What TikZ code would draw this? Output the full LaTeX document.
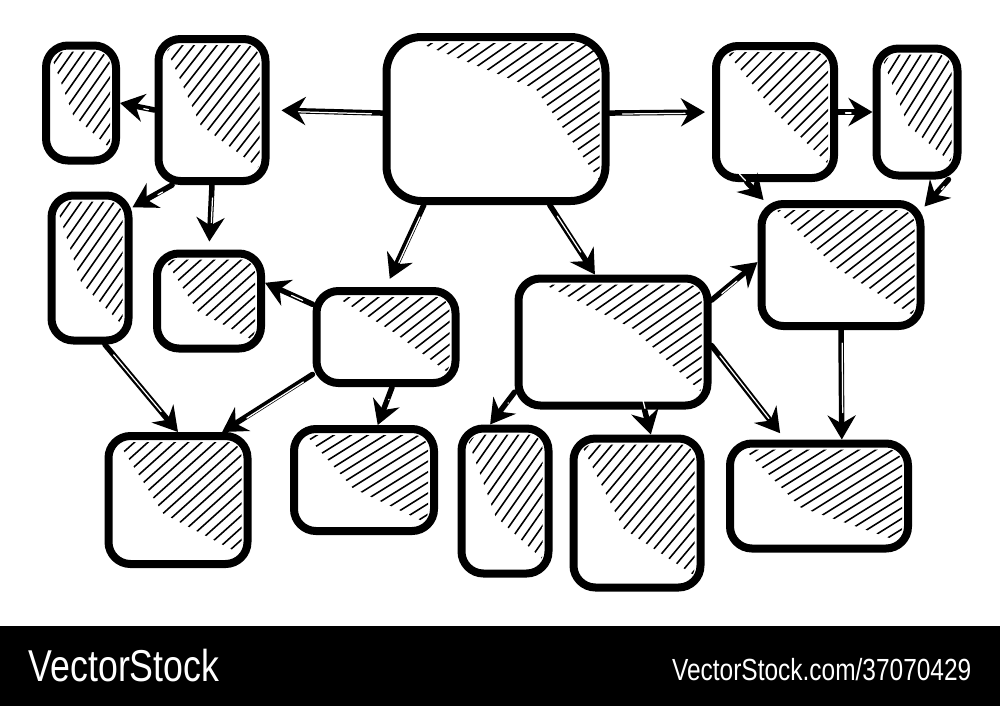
\documentclass[tikz,border=0pt]{standalone}
\usepackage{amsmath}
\usepackage{mathtools}
\usepackage{fontspec}
\usepackage{tikz}
\usetikzlibrary{arrows.meta,calc}
\newfontfamily\barfont{Liberation Sans}
\newcommand\hatchbox[3]{%
\begin{scope}
\clip [rounded corners=1.4mm] ([shift={(10,10)}]#1.north west) rectangle ([shift={(-10,-10)}]#1.south east);
\clip ($(#1.north west)!0.05!(#1.north east)$) -- (#1.north east) -- ($(#1.south east)!0.06!(#1.north east)$) -- ($(#1.center)!#3!(#1.south west)$) -- cycle;
\foreach \k in {-20,...,20}
\draw [black, line width=0.45pt] ([shift={({\k*9*sin(#2)},{\k*9*cos(#2)})}]#1.center) ++({-200*cos(#2)},{200*sin(#2)}) -- ++({400*cos(#2)},{-400*sin(#2)});
\end{scope}}

\begin{document}
\begin{tikzpicture}[x=0.1mm,y=-0.1mm]
\tikzstyle{every node}+=[inner sep=0pt]
\tikzstyle{sbox}=[draw, line width=0.8mm, rounded corners=2.2mm]
\tikzstyle{link}=[line width=0.55mm, line cap=round, -{Stealth[length=2.4mm,width=2.8mm,inset=0.8mm]},
  postaction={draw=white, line width=0.35pt, -, shorten >=2.8mm, shorten <=1.2mm, transform canvas={shift={(0.3pt,-0.3pt)}}}]
\useasboundingbox (0,0) rectangle (1000,706);
\node [sbox, minimum width=7mm, minimum height=11.5mm] (a) at (81,103) {};
\node [sbox, minimum width=10.7mm, minimum height=14.2mm] (b) at (212,110) {};
\node [sbox, minimum width=21.9mm, minimum height=16.4mm, rounded corners=3.5mm] (c) at (496,119) {};
\node [sbox, minimum width=11.8mm, minimum height=13.2mm] (d) at (775,112) {};
\node [sbox, minimum width=8.1mm, minimum height=12.7mm] (e) at (917,112) {};
\node [sbox, minimum width=7.7mm, minimum height=14.5mm] (f) at (90,268) {};
\node [sbox, minimum width=10.4mm, minimum height=9.5mm] (g) at (209,301) {};
\node [sbox, minimum width=13.9mm, minimum height=9.2mm] (h) at (386,337) {};
\node [sbox, minimum width=18.9mm, minimum height=12.7mm] (i) at (613,342) {};
\node [sbox, minimum width=15.9mm, minimum height=12.2mm] (j) at (841,265) {};
\node [sbox, minimum width=13.9mm, minimum height=12.8mm] (k) at (178,500) {};
\node [sbox, minimum width=14mm, minimum height=10.2mm] (l) at (364,480) {};
\node [sbox, minimum width=8.7mm, minimum height=14.5mm] (m) at (505,501) {};
\node [sbox, minimum width=12.7mm, minimum height=14.9mm] (n) at (637,513) {};
\node [sbox, minimum width=17.8mm, minimum height=10.5mm] (o) at (819,496) {};
\foreach \b/\t/\q in {a/55/0.2,b/52/0.2,c/35/-0.35,d/45/0,e/58/0.2,f/55/0.2,g/42/0.2,h/38/-0.1,i/35/-0.2,j/38/0.05,k/42/0.2,l/32/0.15,m/55/0.2,n/50/0.2,o/32/0.2} \hatchbox{\b}{\t}{\q};
\draw [link, shorten >=1.2mm] (c.177) -- (b.east);
\draw [link, shorten >=0.7mm] (c.3) -- (d.west);
\draw [link] (b.west) -- (a.east);
\draw [link] (d.east) -- (e.west);
\draw [link] (b.242) -- (f.55);
\draw [link, shorten >=0.8mm] (b.south) -- (g.north);
\draw [link, shorten >=0.9mm] (c.230) -- (h.north);
\draw [link] (c.302) -- (i.105);
\draw [link] (d.248) -- (j.140);
\draw [link] (e.295) -- (j.35);
\draw [link] (i.23) -- (j.178);
\draw [link] (h.156) -- (g.18);
\draw [link] (f.281) -- (k.north);
\draw [link] (h.207) -- (k.57);
\draw [link] (h.277) -- (l.76);
\draw [link] (i.207) -- (m.101);
\draw [link] (i.295) -- (n.80);
\draw [link, shorten >=0.8mm] (i.358) -- (o.121);
\draw [link] (j.south) -- (o.68);
\fill [black] (0,626) rectangle (1000,706);
\node [anchor=base west, text=white, font=\barfont\fontsize{12.7}{14}\selectfont] (mark) at (28,681) {\scalebox{0.8}[1]{VectorStock}};
\node [anchor=base east, text=white, font=\barfont\fontsize{8.7}{10}\selectfont] (url) at (972,680) {\scalebox{0.8}[1]{VectorStock.com/37070429}};
\end{tikzpicture}
\end{document}
